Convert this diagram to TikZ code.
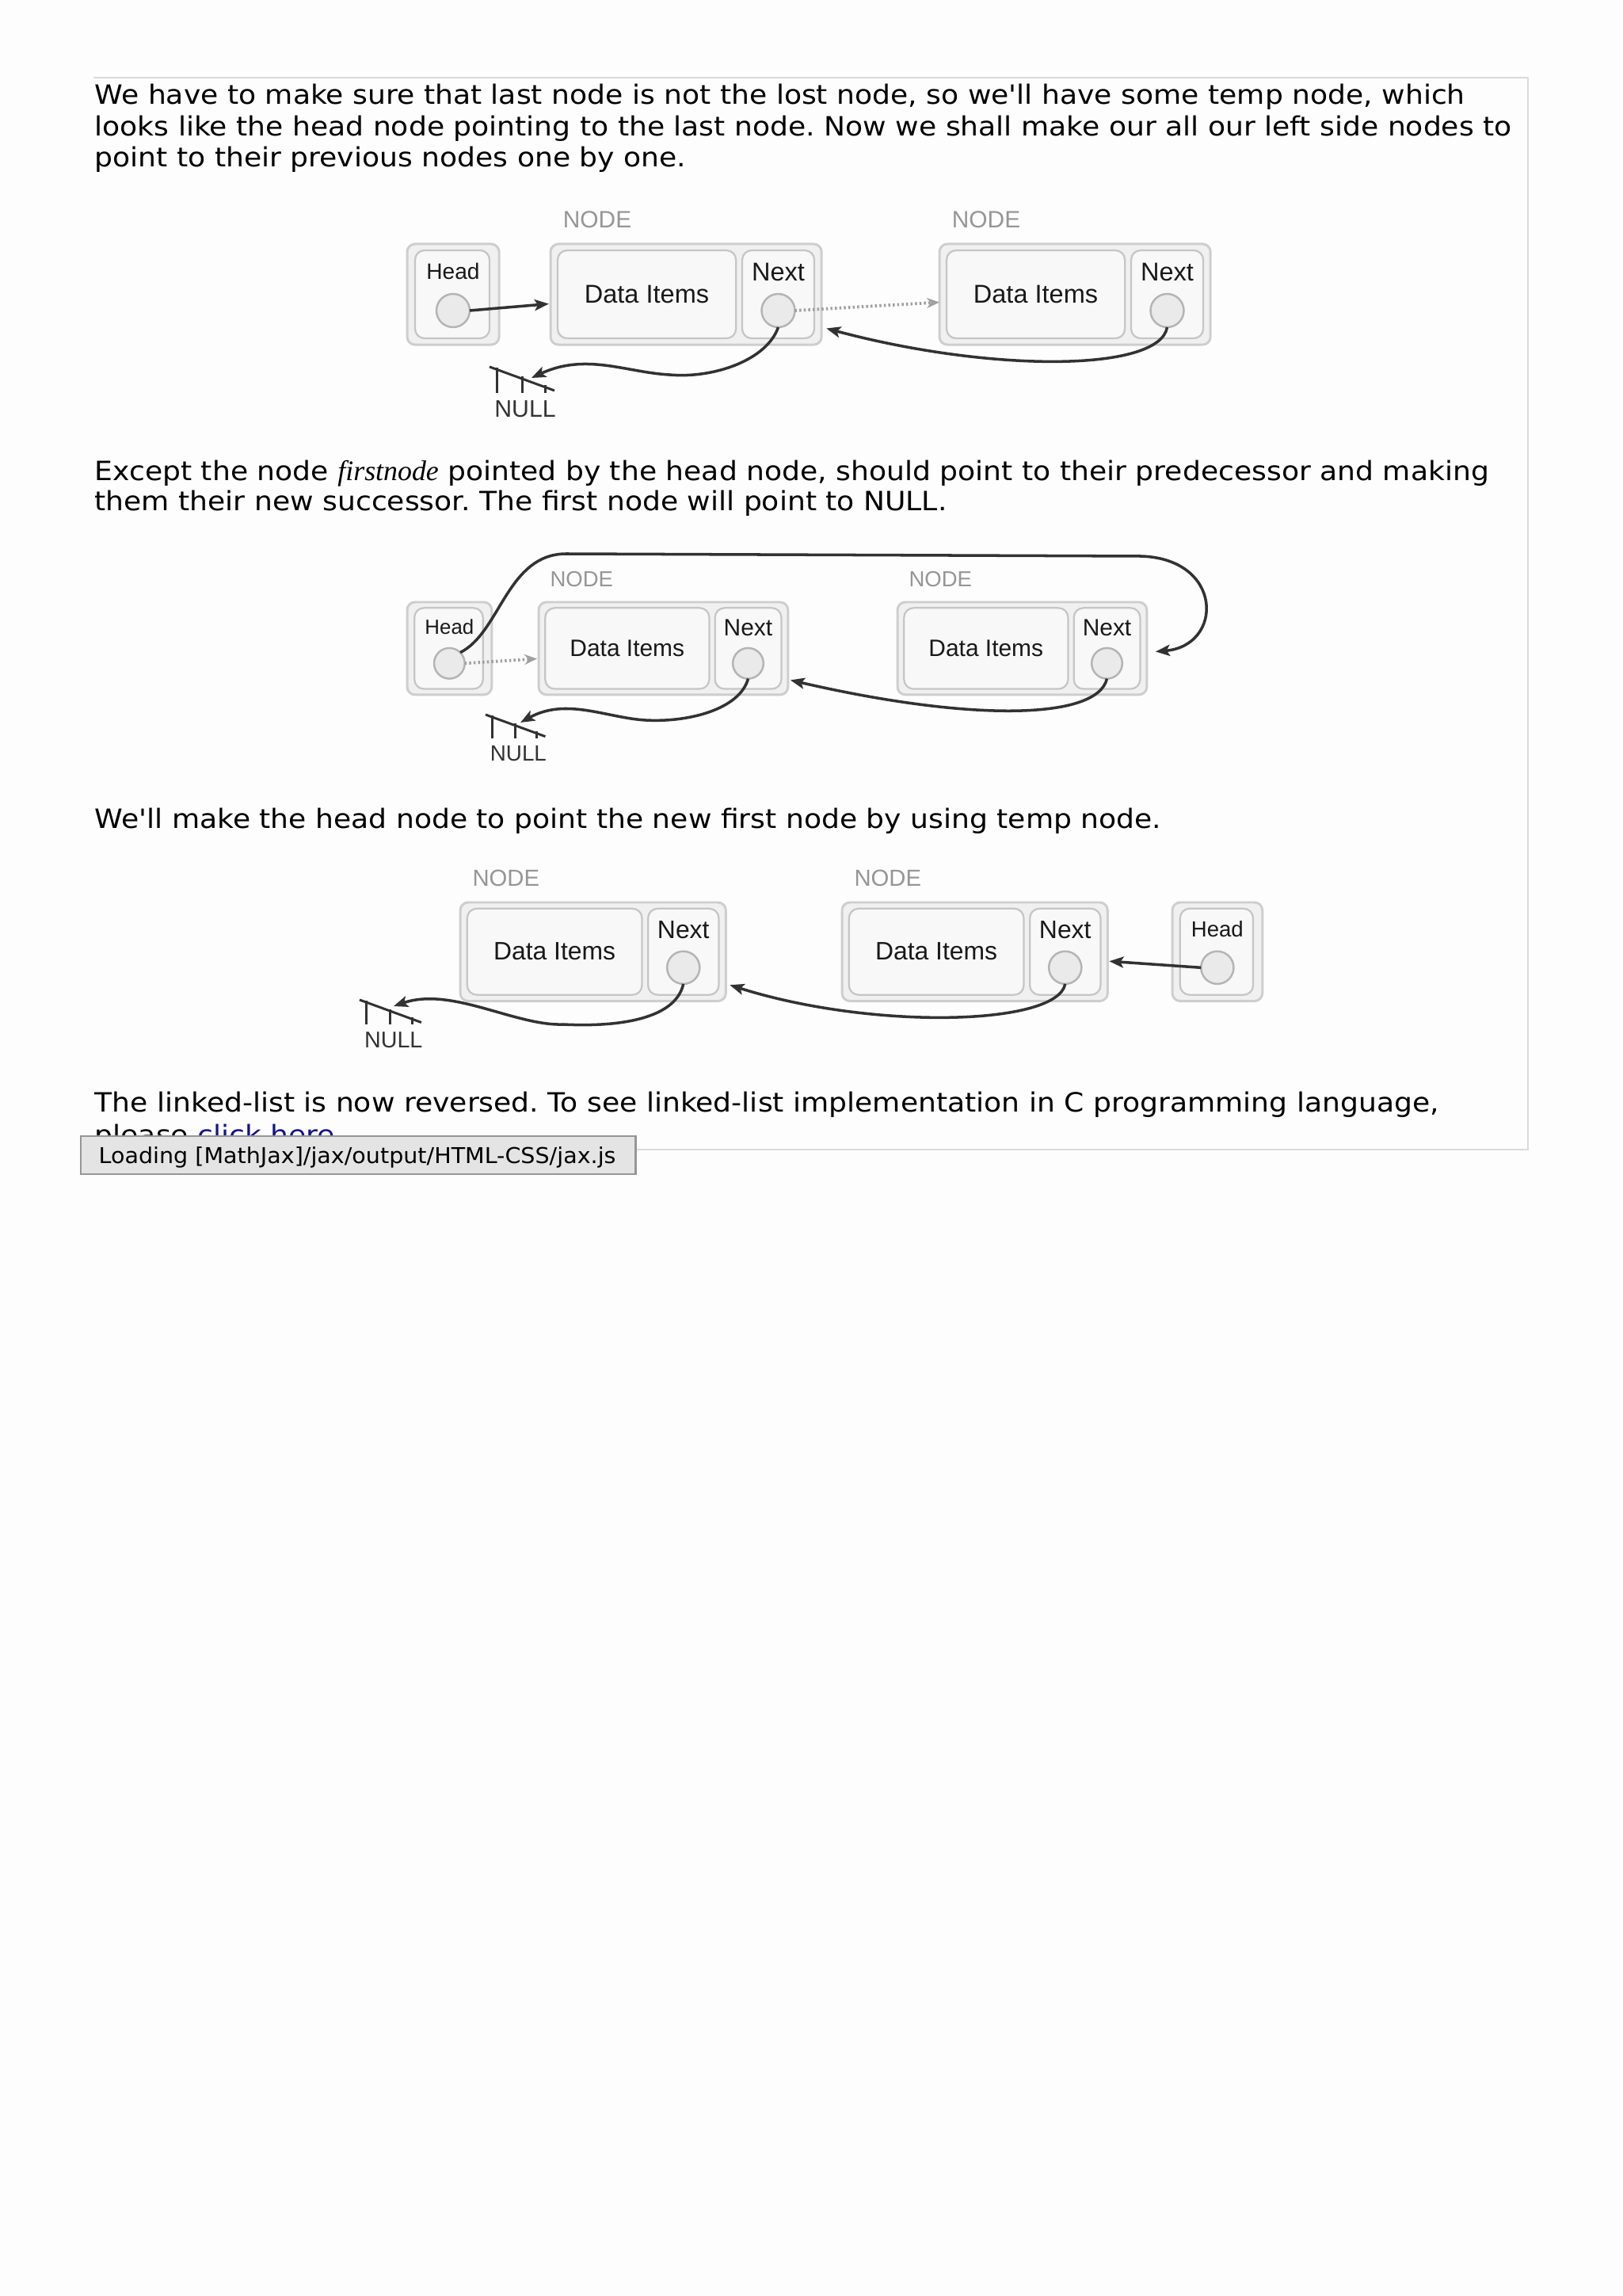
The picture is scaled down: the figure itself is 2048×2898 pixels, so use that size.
\documentclass[tikz,border=0pt]{standalone}
\usepackage{fontspec}
\usetikzlibrary{arrows.meta,calc}
\newfontfamily\bodyfont{DejaVu Sans}[FakeStretch=1.078]
\newfontfamily\loadfont{DejaVu Sans}[FakeStretch=1.038]
\newfontfamily\diagfont{Liberation Sans}
\newfontfamily\mjfont{Liberation Serif}
\frenchspacing
\definecolor{pagebg}{RGB}{253,253,254}
\definecolor{frameline}{RGB}{218,218,218}
\definecolor{boxline}{RGB}{206,206,206}
\definecolor{boxfill}{RGB}{240,240,240}
\definecolor{innerline}{RGB}{198,198,198}
\definecolor{innerfill}{RGB}{248,248,248}
\definecolor{circfill}{RGB}{234,234,234}
\definecolor{circline}{RGB}{180,180,180}
\definecolor{arrowcol}{RGB}{50,50,50}
\definecolor{dotcol}{RGB}{160,160,160}
\definecolor{labelgray}{RGB}{150,150,150}
\definecolor{linkblue}{RGB}{20,20,140}
\definecolor{loadfill}{RGB}{228,228,228}
\definecolor{loadline}{RGB}{150,150,150}
\tikzset{
 outerbox/.style={draw=boxline, fill=boxfill, line width=0.85pt, rounded corners=0.1cm, inner sep=0pt, outer sep=0pt},
 innerbox/.style={draw=innerline, fill=innerfill, line width=0.65pt, rounded corners=0.12cm, inner sep=0pt, outer sep=0pt},
 circ/.style={circle, draw=circline, fill=circfill, line width=0.7pt, inner sep=0pt, outer sep=0pt},
 boxtext/.style={inner sep=0pt, text=black!90},
 nodelabel/.style={inner sep=0pt, text=labelgray},
 arr/.style={draw=arrowcol, line width=1pt, -{Stealth[length=0.18cm,width=0.14cm,inset=0.04cm]}},
 dotarr/.style={draw=dotcol, line width=1.1pt, dash pattern=on 0.7pt off 0.9pt, -{Stealth[length=0.16cm,width=0.13cm]}},
 gnd/.style={draw=arrowcol, line width=0.85pt},
 para/.style={inner sep=0pt, anchor=base west, font=\bodyfont\fontsize{9.53}{11}\selectfont},
}
% list node: name, left, top, scale
\newcommand\listnode[4]{%
 \pgfmathsetmacro\dfs{9.25*#4}%
 \pgfmathsetmacro\lfs{8.5*#4}%
 \node[outerbox, anchor=north west, minimum width=#4*3.42cm, minimum height=#4*1.27cm] (#1) at (#2,#3) {};
 \node[innerbox, anchor=north west, minimum width=#4*2.25cm, minimum height=#4*1.11cm] (#1-data) at ({#2+9*#4},{#3+8*#4}) {};
 \node[innerbox, anchor=north west, minimum width=#4*0.91cm, minimum height=#4*1.11cm] (#1-next) at ({#2+242*#4},{#3+8*#4}) {};
 \node[boxtext, font=\diagfont\fontsize{\dfs}{\dfs}\selectfont] (#1-dt) at ({#2+121.5*#4},{#3+63*#4}) {Data Items};
 \node[boxtext, font=\diagfont\fontsize{\dfs}{\dfs}\selectfont] (#1-nt) at ({#2+287.5*#4},{#3+35*#4}) {Next};
 \node[circ, minimum size=#4*0.42cm] (#1-c) at ({#2+287.5*#4},{#3+84*#4}) {};
 \node[nodelabel, font=\diagfont\fontsize{\lfs}{\lfs}\selectfont] (#1-lab) at ({#2+59*#4},{#3-31*#4}) {NODE};
}
% head node: name, left, top, scale
\newcommand\headnode[4]{%
 \pgfmathsetmacro\hfs{8.0*#4}%
 \node[outerbox, anchor=north west, minimum width=#4*1.16cm, minimum height=#4*1.27cm] (#1) at (#2,#3) {};
 \node[innerbox, anchor=north west, minimum width=#4*0.94cm, minimum height=#4*1.11cm] (#1-in) at ({#2+10*#4},{#3+8*#4}) {};
 \node[boxtext, font=\diagfont\fontsize{\hfs}{\hfs}\selectfont] (#1-t) at ({#2+58*#4},{#3+34*#4}) {Head};
 \node[circ, minimum size=#4*0.42cm] (#1-c) at ({#2+58*#4},{#3+84*#4}) {};
}
% null mark: name, x, y, scale
\newcommand\nullmark[4]{%
 \pgfmathsetmacro\nfs{8.6*#4}%
 \draw[gnd] (#2,#3) -- ({#2+82*#4},{#3+30*#4});
 \draw[gnd] ({#2+9*#4},{#3+1*#4}) -- ({#2+9*#4},{#3+33*#4});
 \draw[gnd] ({#2+41*#4},{#3+12.5*#4}) -- ({#2+41*#4},{#3+33*#4});
 \draw[gnd] ({#2+70*#4},{#3+23*#4}) -- ({#2+70*#4},{#3+33*#4});
 \node[boxtext, text=black!80, font=\diagfont\fontsize{\nfs}{\nfs}\selectfont] (#1) at ({#2+45*#4},{#3+53*#4}) {NULL};
}
\begin{document}
\begin{tikzpicture}[x=0.01cm, y=-0.01cm]
\fill[pagebg] (0,0) rectangle (2048,2898);
\useasboundingbox (0,0) rectangle (2048,2898);
% frame
\draw[frameline, line width=0.5pt] (118,98) -- (1929,98) -- (1929,1451) -- (800,1451);
% paragraph 1
\node[para] (p1a) at (119,132) {We have to make sure that last node is not the lost node, so we'll have some temp node, which};
\node[para] (p1b) at (119,172) {looks like the head node pointing to the last node. Now we shall make our all our left side nodes to};
\node[para] (p1c) at (119,211) {point to their previous nodes one by one.};
% diagram 1
\headnode{h1}{514}{308}{1}
\listnode{a1}{695}{308}{1}
\listnode{b1}{1186}{308}{1}
\nullmark{null1}{618}{463}{1}
\coordinate (n1tip) at (671,477);
\draw[arr] (h1-c.east) -- ($(a1.west)+(-2,12)$);
\draw[dotarr] (a1-c.east) -- ($(b1.west)+(0,10)$);
\draw[arr] (b1-c.south) .. controls (1464,470) and (1250,470) .. ($(a1.east)+(6,43)$);
\draw[arr] (a1-c.south) .. controls (968,455) and (900,478) .. (845,473) .. controls (790,470) and (740,445) .. (n1tip);
% paragraph 2
\node[para] (p2a) at (119,607) {Except the node {\mjfont\itshape\fontsize{10.2}{11}\selectfont firstnode} pointed by the head node, should point to their predecessor and making};
\node[para] (p2b) at (119,645) {them their new successor. The first node will point to NULL.};
% diagram 2
\headnode{h2}{514}{760}{0.92}
\listnode{a2}{680}{760}{0.92}
\listnode{b2}{1133}{760}{0.92}
\nullmark{null2}{613}{902}{0.92}
\coordinate (n2tip) at (657,912);
\draw[dotarr] (h2-c.east) -- ($(a2.west)+(-2,13)$);
\draw[arr] (h2-c.north east) .. controls (632,798) and (640,699) .. (715,699) -- (1440,702) .. controls (1545,705) and (1545,815) .. ($(b2.east)+(11,4)$);
\draw[arr] (b2-c.south) .. controls (1385,910) and (1220,910) .. ($(a2.east)+(3,40)$);
\draw[arr] (a2-c.south) .. controls (934,895) and (870,912) .. (815,909) .. controls (765,906) and (715,880) .. (n2tip);
% paragraph 3
\node[para] (p3) at (119,1045) {We'll make the head node to point the new first node by using temp node.};
% diagram 3
\listnode{a3}{581}{1139}{0.98}
\listnode{b3}{1063}{1139}{0.98}
\headnode{h3}{1480}{1139}{0.98}
\nullmark{null3}{454}{1262}{0.95}
\coordinate (n3tip) at (497,1270);
\draw[arr] (h3-c.west) -- ($(b3.east)+(2,12)$);
\draw[arr] (b3-c.south) .. controls (1335,1295) and (1100,1300) .. ($(a3.east)+(5,42)$);
\draw[arr] (a3-c.south) .. controls (852,1290) and (770,1296) .. (711,1293) .. controls (650,1295) and (570,1245) .. (n3tip);
% paragraph 4
\node[para] (p4a) at (119,1403) {The linked-list is now reversed. To see linked-list implementation in C programming language,};
\node[para] (p4b) at (119,1444) {please \textcolor{linkblue}{click here}.};
% loading box
\node[draw=loadline, fill=loadfill, line width=0.7pt, anchor=north west, minimum width=7.0cm, minimum height=0.48cm, inner sep=0pt] (loading) at (101,1433) {};
\node[inner sep=0pt, anchor=base west, font=\loadfont\fontsize{7.82}{9}\selectfont] (loadtext) at (124,1468) {Loading [MathJax]/jax/output/HTML-CSS/jax.js};
\end{tikzpicture}
\end{document}
